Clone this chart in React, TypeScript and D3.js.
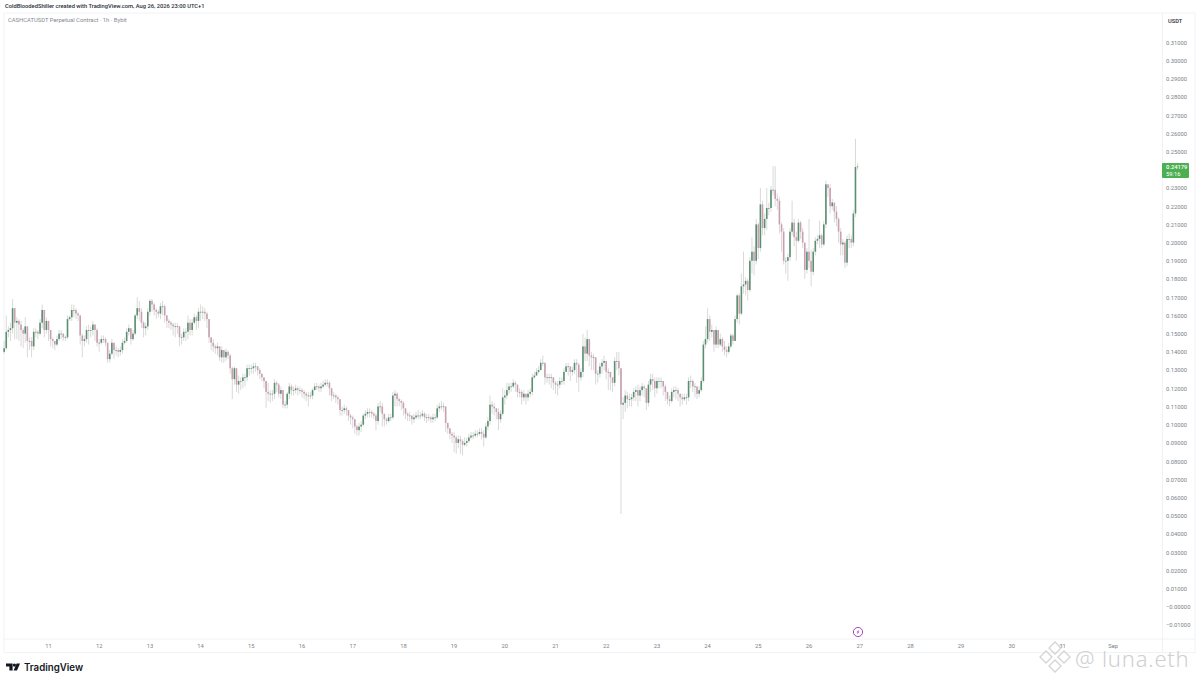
import * as React from "react";
import * as d3 from "d3";

// prices are in thousandths of a USDT, one bar per hour from Aug 10 03:00
const firstOpen = 140;
const closes = [
  142,151,152,153,164,156,157,155,152,150,154,146,146,143,151,151,150,156,163,152,
  157,152,147,146,144,147,150,150,148,148,158,159,163,163,161,160,149,146,147,152,
  152,152,155,152,145,145,147,147,145,136,139,145,141,141,140,141,145,146,151,153,
  147,150,160,164,162,156,153,154,162,168,166,163,162,161,165,165,160,157,156,155,
  154,154,154,148,148,151,151,156,152,156,159,157,162,162,162,161,158,148,145,143,
  142,143,137,141,137,140,138,131,125,131,122,124,124,126,126,131,131,131,132,132,
  130,128,126,124,118,117,117,117,123,122,117,119,111,111,117,121,119,119,120,119,
  119,118,117,116,116,116,119,121,121,120,121,122,123,123,120,116,116,115,114,108,
  108,109,108,105,104,103,99,97,99,100,105,106,107,107,106,105,102,110,110,106,
  103,102,104,104,116,117,114,113,112,109,106,105,105,103,104,105,105,105,106,104,
  104,104,103,104,104,109,110,110,110,101,98,95,94,93,90,92,91,89,90,91,
  93,94,94,95,95,96,95,93,99,102,111,110,109,107,103,106,115,116,119,121,
  121,123,122,118,118,115,117,115,117,118,126,127,129,130,134,134,126,126,126,126,
  123,122,122,124,124,129,132,132,129,130,134,133,126,129,143,139,147,138,137,137,
  128,128,132,134,135,129,129,126,123,135,135,131,111,112,116,114,114,115,118,119,
  116,119,121,120,112,122,125,124,120,124,124,124,121,118,114,113,118,119,119,117,
  115,114,115,115,124,124,121,121,117,119,124,144,147,158,151,152,144,152,144,147,
  143,141,140,143,149,146,158,171,161,176,177,179,174,190,195,190,210,197,221,208,
  213,219,219,229,229,224,223,210,206,190,190,192,206,211,203,201,211,206,200,185,
  195,190,184,195,201,202,204,199,210,232,230,220,222,217,213,206,199,200,189,202,
  202,200,216,241.5,241.79,
];
const highs = [
  146,160,154,156,169,164,159,158,157,153,159,154,148,148,153,153,152,158,166,163,
  159,157,152,148,146,149,152,152,150,149,160,160,166,166,164,162,160,150,149,154,
  155,154,157,155,153,147,149,149,148,145,141,147,145,143,142,143,147,148,153,155,
  153,152,161,170,168,164,157,156,164,169,169,167,164,163,167,168,166,160,158,157,
  156,156,156,154,150,153,153,160,158,158,161,160,164,166,165,164,162,158,148,147,
  144,145,143,143,141,142,141,139,132,132,131,127,126,128,128,133,133,133,134,134,
  132,131,128,126,124,123,119,119,125,124,123,121,119,113,118,123,122,121,122,121,
  121,120,119,118,118,118,120,123,123,122,123,124,125,125,124,120,118,117,116,114,
  110,111,110,108,106,105,103,100,101,102,106,108,109,109,108,107,106,112,113,112,
  106,104,106,106,118,119,118,115,114,113,109,107,107,105,106,107,108,107,108,107,
  106,106,105,106,106,111,112,113,112,110,100,98,96,96,94,94,94,92,93,93,
  95,96,96,97,97,98,98,97,101,104,116,113,112,109,109,108,120,119,123,123,
  123,125,124,122,120,119,119,117,119,120,128,129,131,132,136,138,134,128,128,128,
  126,124,124,126,126,131,134,134,132,132,136,136,134,131,150,148,152,147,140,139,
  137,130,134,136,138,135,131,128,126,137,140,140,131,115,119,118,117,117,120,121,
  122,121,123,122,120,124,128,128,126,126,126,126,124,122,118,116,120,121,121,120,
  117,117,117,117,126,127,125,123,121,121,126,146,154,164,160,155,152,154,152,150,
  148,146,143,145,150,150,160,172,172,183,195,181,180,192,203,198,213,211,230,223,
  216,230,222,231,242,242,227,225,211,208,192,194,208,223,213,206,213,212,208,197,
  197,213,196,197,203,204,212,205,212,234,232,232,224,219,220,214,208,202,201,204,
  205,204,218,257,243.6,
];
const lows = [
  139,141,148,146,150,147,147,146,143,142,145,137,141,137,141,148,147,149,153,148,
  150,146,143,142,141,143,146,147,146,146,147,157,157,159,158,157,144,137,143,145,
  144,148,149,146,143,140,144,145,143,134,134,138,136,138,137,138,139,144,145,149,
  144,146,149,158,157,153,148,149,152,160,162,160,158,159,158,160,156,153,153,152,
  149,148,150,143,144,146,146,147,149,149,155,152,153,157,158,157,153,145,141,140,
  139,138,135,134,134,135,136,128,114,122,118,117,119,120,121,124,127,128,128,129,
  127,125,124,120,109,113,112,113,114,118,115,114,109,109,109,114,116,116,117,116,
  117,115,114,113,110,114,114,119,119,118,118,120,121,121,116,113,114,112,111,105,
  105,106,105,102,100,98,95,94,94,96,99,103,104,104,104,103,97,100,107,99,
  99,100,101,102,103,110,110,110,108,105,103,102,102,100,101,103,103,103,104,102,
  101,102,101,101,102,103,107,108,107,96,95,92,90,85,84,87,84,83,88,88,
  90,92,92,93,93,94,92,88,92,97,100,106,105,103,97,101,105,111,114,117,
  118,120,118,115,115,111,113,111,113,115,116,125,127,128,130,132,122,123,122,120,
  119,117,116,120,122,122,129,127,124,127,128,123,118,124,126,135,135,132,130,130,
  122,123,126,128,130,125,119,119,118,121,130,127,51,103,107,109,110,110,113,113,
  110,113,116,115,108,110,118,119,115,117,120,120,116,113,111,110,112,115,114,113,
  110,111,113,111,113,120,118,115,114,115,118,123,142,145,146,148,140,142,142,143,
  140,138,137,139,142,144,146,156,155,160,172,171,168,173,183,182,188,191,195,204,
  204,207,215,217,226,220,218,205,195,188,183,179,190,204,198,190,200,202,197,180,
  183,186,176,182,193,199,197,197,198,208,225,216,218,211,209,200,193,193,186,187,
  197,197,198,214,240,
];

const priceTicks = [
  310,300,290,280,270,260,250,230,220,210,200,190,180,170,160,150,140,130,120,110,
  100,90,80,70,60,50,40,30,20,10,0,-10,
];
const dayLabels = ["11","12","13","14","15","16","17","18","19","20","21","22","23","24","25","26","27","28","29","30","31","Sep"];

const UP = "#5a8f70";
const DOWN = "#c99fb1";
const WICK = "#cfcfcf";
const LINE = "#f0f2f6";
const AXIS_TEXT = "#7b7f88";
const FONT = "Roboto, 'Liberation Sans', sans-serif";

const HOUR = 3600000;
const start = Date.UTC(2026, 7, 10, 3);

export default function App() {
  const x = d3.scaleUtc()
    .domain([new Date(Date.UTC(2026, 7, 11)), new Date(Date.UTC(2026, 7, 27))])
    .range([48.5, 859.7]);
  const y = d3.scaleLinear().domain([310, -10]).range([42.3, 625]);
  const dayTicks = d3.utcDay.range(new Date(Date.UTC(2026, 7, 11)), new Date(Date.UTC(2026, 8, 2)));

  const bars = closes.map((c, i) => {
    const open = i === 0 ? firstOpen : closes[i - 1];
    const px = x(new Date(start + i * HOUR));
    return { c, open, px, hi: highs[i], lo: lows[i] };
  });

  return (
    <svg width={1200} height={682} style={{ position: "absolute", left: 0, top: 0, background: "#fff" }} fontFamily={FONT}>
      <text x={5} y={8.2} fontSize={5.75} fontWeight={500} fill="#2a2e39">
        ColdBloodedShiller created with TradingView.com, Aug 26, 2026 23:00 UTC+1
      </text>

      <line x1={4} x2={1195} y1={13} y2={13} stroke={LINE} />
      <line x1={4} x2={1195} y1={639} y2={639} stroke={LINE} />
      <line x1={4} x2={1195} y1={652.5} y2={652.5} stroke={LINE} />
      <line x1={4} x2={4} y1={13} y2={652.5} stroke={LINE} />
      <line x1={1162.5} x2={1162.5} y1={13} y2={652.5} stroke={LINE} />
      <line x1={1195} x2={1195} y1={13} y2={652.5} stroke={LINE} />

      <text x={8} y={22} fontSize={5.85} fill="#868993">CASHCATUSDT Perpetual Contract · 1h · Bybit</text>
      <text x={1168} y={22.5} fontSize={5.7} fontWeight={500} fill="#2a2e39">USDT</text>

      {bars.map((b, i) => (
        <line key={"w" + i} x1={b.px} x2={b.px} y1={y(b.hi)} y2={y(b.lo)} stroke={WICK} strokeWidth={0.8} />
      ))}
      {bars.map((b, i) => (
        <rect
          key={"b" + i}
          x={b.px - 0.8}
          width={1.6}
          y={y(Math.max(b.open, b.c))}
          height={Math.max(0.7, Math.abs(y(b.open) - y(b.c)))}
          fill={b.c >= b.open ? UP : DOWN}
        />
      ))}

      {priceTicks.map((t) => (
        <text key={t} x={1166} y={y(t) + 2.4} fontSize={5.8} fill={AXIS_TEXT}>
          {(t <= 0 ? "−" : "") + d3.format(".5f")(Math.abs(t) / 1000)}
        </text>
      ))}

      <rect x={1162} y={163} width={27} height={15} rx={1} fill="#4caf50" />
      <text x={1166} y={169} fontSize={5.8} fontWeight={500} fill="#fff">0.24179</text>
      <text x={1166} y={176} fontSize={5.8} fill="#fff">59:16</text>

      {dayTicks.map((d, i) => (
        <text key={i} x={x(d)} y={648} fontSize={5.8} fill={AXIS_TEXT} textAnchor="middle">
          {dayLabels[i]}
        </text>
      ))}

      <g transform="translate(858,632)">
        <circle r={4.6} fill="#fff" stroke="#a04cb8" strokeWidth={1} />
        <path d="M0.8,-2.6 L-1.4,0.4 L-0.2,0.4 L-0.8,2.6 L1.4,-0.4 L0.2,-0.4 Z" fill="#a04cb8" />
      </g>

      <g fill="#131722">
        <path d="M6,663.5 H12.6 V670.5 H9.4 V666.4 H6 Z" />
        <circle cx={14.4} cy={665.1} r={1.6} />
        <path d="M16.6,663.5 H20 L17,670.5 H13.6 Z" />
      </g>
      <text x={24} y={670.6} fontSize={9.7} fontWeight={600} fill="#131722" fontFamily="Inter, Roboto, sans-serif">TradingView</text>

      <g transform="translate(1055,656)" fill="none" stroke="#d4d4d4" strokeWidth={1.3}>
        <path d="M0,-14 L6,-8 L0,-2 L-6,-8 Z" />
        <path d="M-9,-5 L-3,1 L-9,7 L-15,1 Z" />
        <path d="M9,-5 L15,1 L9,7 L3,1 Z" />
        <path d="M0,4 L6,10 L0,16 L-6,10 Z" />
      </g>
      <text x={1075} y={666.5} fontSize={22} fontWeight={300} fill="#d0d0d0" letterSpacing={0.8} fontFamily="'Noto Sans', sans-serif">@ luna.eth</text>
    </svg>
  );
}
